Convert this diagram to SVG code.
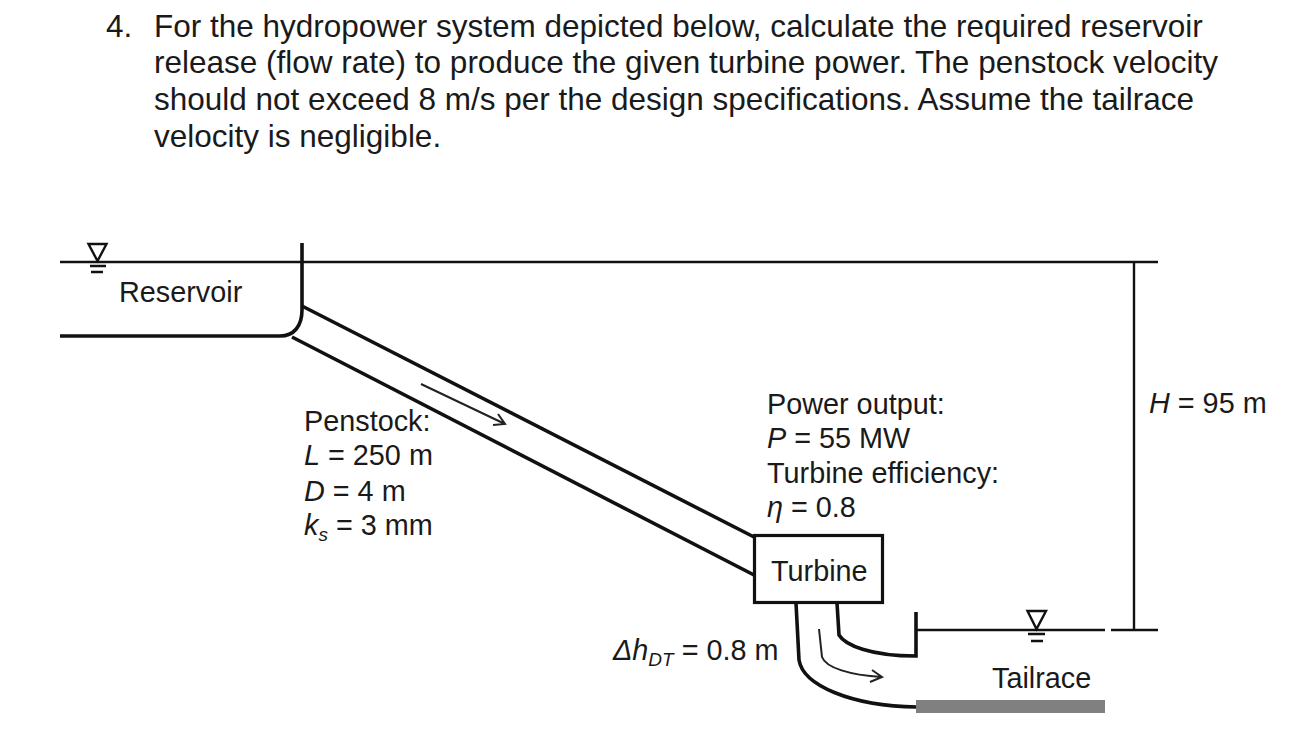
<svg xmlns="http://www.w3.org/2000/svg" width="1293" height="745" viewBox="0 0 1293 745">
<style>
text{font-family:"Liberation Sans",Arial,sans-serif;fill:#1a1a1a}
.q{font-size:31.500px}
.l{font-size:28.800px}
.i{font-style:italic}
.s{font-size:19px}
.w{fill:none;stroke:#111;stroke-width:3.600}
.t{fill:none;stroke:#111;stroke-width:2.400}
.h{fill:none;stroke:#222;stroke-width:2}
.n{fill:none;stroke:#111;stroke-width:2.400}
</style>
<rect width="1293" height="745" fill="#fff"/>
<g id="question">
<text class="q" x="106" y="37">4.</text>
<text class="q" x="154" y="37">For the hydropower system depicted below, calculate the required reservoir</text>
<text class="q" x="154" y="73">release (flow rate) to produce the given turbine power. The penstock velocity</text>
<text class="q" x="154" y="110">should not exceed 8 m/s per the design specifications. Assume the tailrace</text>
<text class="q" x="154" y="147">velocity is negligible.</text>
</g>
<g id="connectors">
<path id="reservoir-surface" class="t" d="M60 262H1158"/>
<path id="reservoir-bed" class="w" d="M302 243V310C302 326 294 336 280 336H60"/>
<path id="penstock-upper" class="w" d="M302 306L754 537"/>
<path id="penstock-lower" class="w" d="M292 337L754 575"/>
<path id="penstock-arrow" class="h" d="M421 384L505 424M498 414L505 424L493 425"/>
<path id="draft-left" class="w" d="M796 603L799 660C803 685 850 706 917 707"/>
<path id="draft-right" class="w" d="M837 603L839 635C845 645 870 656 916 656V612"/>
<path id="draft-arrow" class="h" d="M819 629L822 657C826 668 850 675 882 677M872 670L882 677L870 682"/>
<path id="tailrace-surface" class="t" d="M916 630H1105M1111 630H1158"/>
<path id="head-dimension" class="t" d="M1134 262V630"/>
<rect id="tailrace-bed" x="916" y="700" width="189" height="13" fill="#808080"/>
</g>
<g id="reservoir-symbol">
<path class="n" d="M88.500 244H106.500L97.500 261ZM90 266H106M91 272H103"/>
</g>
<g id="tailrace-symbol">
<path class="n" d="M1027.500 611H1046L1036.500 629ZM1028 634H1045M1031 641H1043"/>
</g>
<g id="reservoir"><text class="l" x="119" y="302">Reservoir</text></g>
<g id="penstock">
<text class="l" x="304" y="431">Penstock:</text>
<text class="l" x="304" y="465"><tspan class="i">L</tspan> = 250 m</text>
<text class="l" x="304" y="501"><tspan class="i">D</tspan> = 4 m</text>
<text class="l" x="304" y="535"><tspan class="i">k</tspan><tspan class="i s" dy="6">s</tspan><tspan dy="-6"> = 3 mm</tspan></text>
</g>
<g id="power">
<text class="l" x="767" y="414">Power output:</text>
<text class="l" x="767" y="448"><tspan class="i">P</tspan> = 55 MW</text>
<text class="l" x="767" y="483">Turbine efficiency:</text>
<text class="l" x="767" y="517"><tspan class="i">η</tspan> = 0.8</text>
</g>
<g id="turbine">
<rect x="754.500" y="535.500" width="128" height="67" fill="#fff" stroke="#111" stroke-width="3.200"/>
<text class="l" x="771" y="581">Turbine</text>
</g>
<g id="draft-label"><text class="l" x="613" y="660"><tspan class="i">Δh</tspan><tspan class="i s" dy="6">DT</tspan><tspan dy="-6"> = 0.8 m</tspan></text></g>
<g id="tailrace"><text class="l" x="992" y="688">Tailrace</text></g>
<g id="head"><text class="l" x="1149" y="413"><tspan class="i">H</tspan> = 95 m</text></g>
</svg>
